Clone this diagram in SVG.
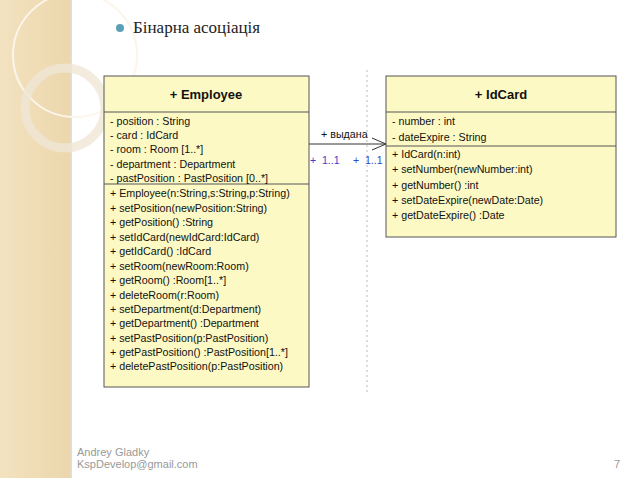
<svg xmlns="http://www.w3.org/2000/svg" width="638" height="478" viewBox="0 0 638 478">
<style>
.box{fill:#fdf9c4;stroke:#555;stroke-width:1}
.t{font-family:"Liberation Sans",Arial,sans-serif;font-size:10.7px;fill:#111}
.h{font-family:"Liberation Sans",Arial,sans-serif;font-size:13px;font-weight:bold;fill:#111;text-anchor:middle}
.m{font-family:"Liberation Sans",Arial,sans-serif;font-size:10.5px;fill:#3344cc}
</style>
<defs><linearGradient id="bg" x1="0" x2="1"><stop offset="0" stop-color="#f3e2c0"/><stop offset="1" stop-color="#ecd7ac"/></linearGradient></defs>
<rect width="638" height="478" fill="#fff"/>
<rect width="70" height="478" fill="url(#bg)"/>
<rect x="70" width="2" height="478" fill="#e6dcc8"/>
<circle cx="75" cy="55" r="62" fill="none" stroke="#fbf5ea" stroke-width="2"/>
<circle cx="65" cy="108" r="40" fill="none" stroke="#efe6d6" stroke-width="9" opacity="0.8"/>
<circle cx="120" cy="28" r="4" fill="#5aa0b8"/>
<text x="133" y="33" font-family="'Liberation Serif',serif" font-size="17" fill="#222">Бінарна асоціація</text>
<line x1="367" y1="70" x2="367" y2="392" stroke="#bbb" stroke-dasharray="2,3"/>
<g id="connectors">
<line x1="309" y1="144" x2="386" y2="144" stroke="#333"/>
<polyline points="372,138 386,144 372,150" fill="none" stroke="#333"/>
<text class="t" x="321" y="138">+ выдана</text>
<text class="m" x="310" y="164" xml:space="preserve">+  1..1</text>
<text class="m" x="353" y="164" xml:space="preserve">+  1..1</text>
</g>
<g id="employee">
<rect class="box" x="104" y="76" width="205" height="311"/>
<line x1="104" y1="112" x2="309" y2="112" stroke="#555"/>
<line x1="104" y1="184" x2="309" y2="184" stroke="#555"/>
<text class="h" x="206" y="99">+ Employee</text>
<text class="t" x="110" y="125">- position : String</text>
<text class="t" x="110" y="139">- card : IdCard</text>
<text class="t" x="110" y="153">- room : Room [1..*]</text>
<text class="t" x="110" y="168">- department : Department</text>
<text class="t" x="110" y="182">- pastPosition : PastPosition [0..*]</text>
<text class="t" x="110" y="197">+ Employee(n:String,s:String,p:String)</text>
<text class="t" x="110" y="212">+ setPosition(newPosition:String)</text>
<text class="t" x="110" y="226">+ getPosition() :String</text>
<text class="t" x="110" y="241">+ setIdCard(newIdCard:IdCard)</text>
<text class="t" x="110" y="255">+ getIdCard() :IdCard</text>
<text class="t" x="110" y="270">+ setRoom(newRoom:Room)</text>
<text class="t" x="110" y="284">+ getRoom() :Room[1..*]</text>
<text class="t" x="110" y="299">+ deleteRoom(r:Room)</text>
<text class="t" x="110" y="313">+ setDepartment(d:Department)</text>
<text class="t" x="110" y="327">+ getDepartment() :Department</text>
<text class="t" x="110" y="342">+ setPastPosition(p:PastPosition)</text>
<text class="t" x="110" y="356">+ getPastPosition() :PastPosition[1..*]</text>
<text class="t" x="110" y="370">+ deletePastPosition(p:PastPosition)</text>
</g>
<g id="idcard">
<rect class="box" x="386" y="76" width="230" height="161"/>
<line x1="386" y1="112" x2="616" y2="112" stroke="#555"/>
<line x1="386" y1="146" x2="616" y2="146" stroke="#555"/>
<text class="h" x="501" y="99">+ IdCard</text>
<text class="t" x="392" y="125">- number : int</text>
<text class="t" x="392" y="141">- dateExpire : String</text>
<text class="t" x="392" y="158">+ IdCard(n:int)</text>
<text class="t" x="392" y="173">+ setNumber(newNumber:int)</text>
<text class="t" x="392" y="189">+ getNumber() :int</text>
<text class="t" x="392" y="204">+ setDateExpire(newDate:Date)</text>
<text class="t" x="392" y="219">+ getDateExpire() :Date</text>
</g>
<text x="77" y="456" font-family="'Liberation Sans',Arial,sans-serif" font-size="11" fill="#999">Andrey Gladky</text>
<text x="77" y="468" font-family="'Liberation Sans',Arial,sans-serif" font-size="11" fill="#999">KspDevelop@gmail.com</text>
<text x="614" y="468" font-family="'Liberation Sans',Arial,sans-serif" font-size="11" fill="#999">7</text>
</svg>
